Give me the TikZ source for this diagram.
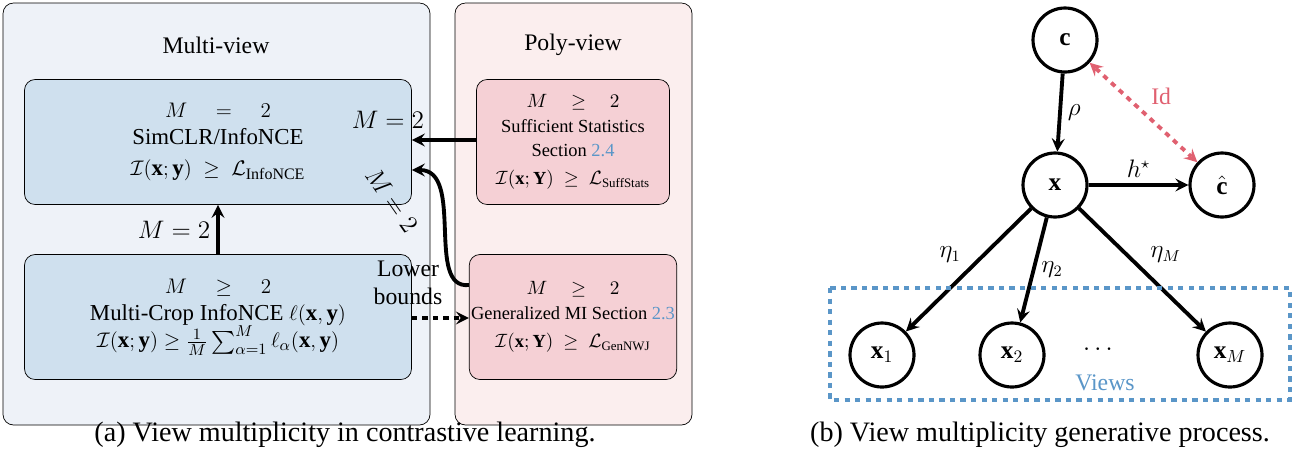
\documentclass[tikz,border=0pt]{standalone}
\usepackage{amsmath}
\usepackage{amssymb}
\usepackage{fontspec}
\setmainfont{Liberation Serif}
\usetikzlibrary{calc}
\definecolor{panelblue}{HTML}{EEF2F8}
\definecolor{boxblue}{HTML}{CFE0EE}
\definecolor{panelpink}{HTML}{FBEEEE}
\definecolor{boxpink}{HTML}{F5D0D5}
\definecolor{refblue}{HTML}{5A96C8}
\definecolor{idred}{HTML}{E06070}
\tikzset{
  panel/.style={draw, rounded corners=6pt, thin},
  box/.style={draw, rounded corners=6pt, thin, minimum width=7.74cm, minimum height=2.5cm, align=center, font=\fontsize{13}{15.5}\selectfont},
  pbox/.style={draw, rounded corners=6pt, thin, minimum width=3.86cm, minimum height=2.5cm, inner sep=1pt, align=center, font=\fontsize{10.5}{14}\selectfont},
  lbl/.style={font=\fontsize{13.5}{16}\selectfont},
  var/.style={draw, circle, line width=1.8pt, minimum size=1.28cm, font=\Large},
  arr/.style={->, >=stealth, line width=2.2pt},
}
\begin{document}
\begin{tikzpicture}[x=0.02cm, y=-0.02cm]
\useasboundingbox (0,0) rectangle (1311,451);
% panels
\draw [panel, fill=panelblue] (3,3) rectangle (430,425);
\node [lbl] at (216,45) {Multi-view};
\draw [panel, fill=panelpink] (455,3) rectangle (692,425);
\node [lbl] at (573,45) {Poly-view};
% boxes
\node [box, fill=boxblue] (simclr) at (218,142) {$M\quad=\quad2$\\SimCLR/InfoNCE\\[2pt]$\mathcal{I}(\mathbf{x};\mathbf{y})\ \geq\ \mathcal{L}_{\text{InfoNCE}}$};
\node [box, fill=boxblue] (crop) at (218,317) {$M\quad\geq\quad2$\\Multi-Crop InfoNCE $\ell(\mathbf{x},\mathbf{y})$\\$\mathcal{I}(\mathbf{x};\mathbf{y})\geq\frac{1}{M}\sum_{\alpha=1}^{M}\ell_\alpha(\mathbf{x},\mathbf{y})$};
\node [pbox, fill=boxpink] (suff) at (573,142) {$M\quad\geq\quad2$\\Sufficient Statistics\\Section \textcolor{refblue}{2.4}\\[2pt]$\mathcal{I}(\mathbf{x};\mathbf{Y})\ \geq\ \mathcal{L}_{\text{SuffStats}}$};
\node [pbox, fill=boxpink] (gen) at (573,317) {$M\quad\geq\quad2$\\Generalized MI Section \textcolor{refblue}{2.3}\\[2pt]$\mathcal{I}(\mathbf{x};\mathbf{Y})\ \geq\ \mathcal{L}_{\text{GenNWJ}}$};
% arrows
\draw [arr] (suff.west |- 0,140) -- (simclr.east |- 0,140);
\node [lbl] at (388,120) {$M=2$};
\draw [arr] (gen.west |- 0,285) .. controls (425,290) and (465,170) .. (simclr.east |- 0,170);
\node [lbl, rotate=-55] at (392,200) {$M=2$};
\draw [arr] (crop.north) -- node [left, lbl] {$M=2$} (simclr.south);
\draw [arr, dashed] (crop.east |- 0,318) -- (gen.west |- 0,318);
\node [align=center, lbl] at (408,283) {Lower\\bounds};
\node [font=\fontsize{16}{19}\selectfont] at (345,435) {(a) View multiplicity in contrastive learning.};
% generative process
\node [var] (c) at (1065,40) {$\mathbf{c}$};
\node [var] (x) at (1055,185) {$\mathbf{x}$};
\node [var] (chat) at (1222,185) {$\hat{\mathbf{c}}$};
\node [var] (x1) at (882,355) {$\mathbf{x}_1$};
\node [var] (x2) at (1012,355) {$\mathbf{x}_2$};
\node [font=\Large] (dots) at (1100,350) {$\cdots$};
\node [var] (xM) at (1230,355) {$\mathbf{x}_M$};
\draw [arr] (c) -- node [right, lbl] {$\rho$} (x);
\draw [arr] (x) -- node [above, lbl] {$h^\star$} (chat);
\draw [arr] (x) -- node [above left, lbl] {$\eta_1$} (x1);
\draw [arr] (x) -- node [right, lbl] {$\eta_2$} (x2);
\draw [arr] (x) -- node [above right, lbl] {$\eta_M$} (xM);
\draw [<->, >=stealth, line width=2.2pt, dashed, idred] (c) -- node [above right, lbl] {Id} (chat);
\draw [refblue, line width=2pt, dashed] (830,288) rectangle (1290,400);
\node [refblue, lbl] at (1105,383) {Views};
\node [font=\fontsize{16}{19}\selectfont] at (1040,435) {(b) View multiplicity generative process.};
\end{tikzpicture}
\end{document}
